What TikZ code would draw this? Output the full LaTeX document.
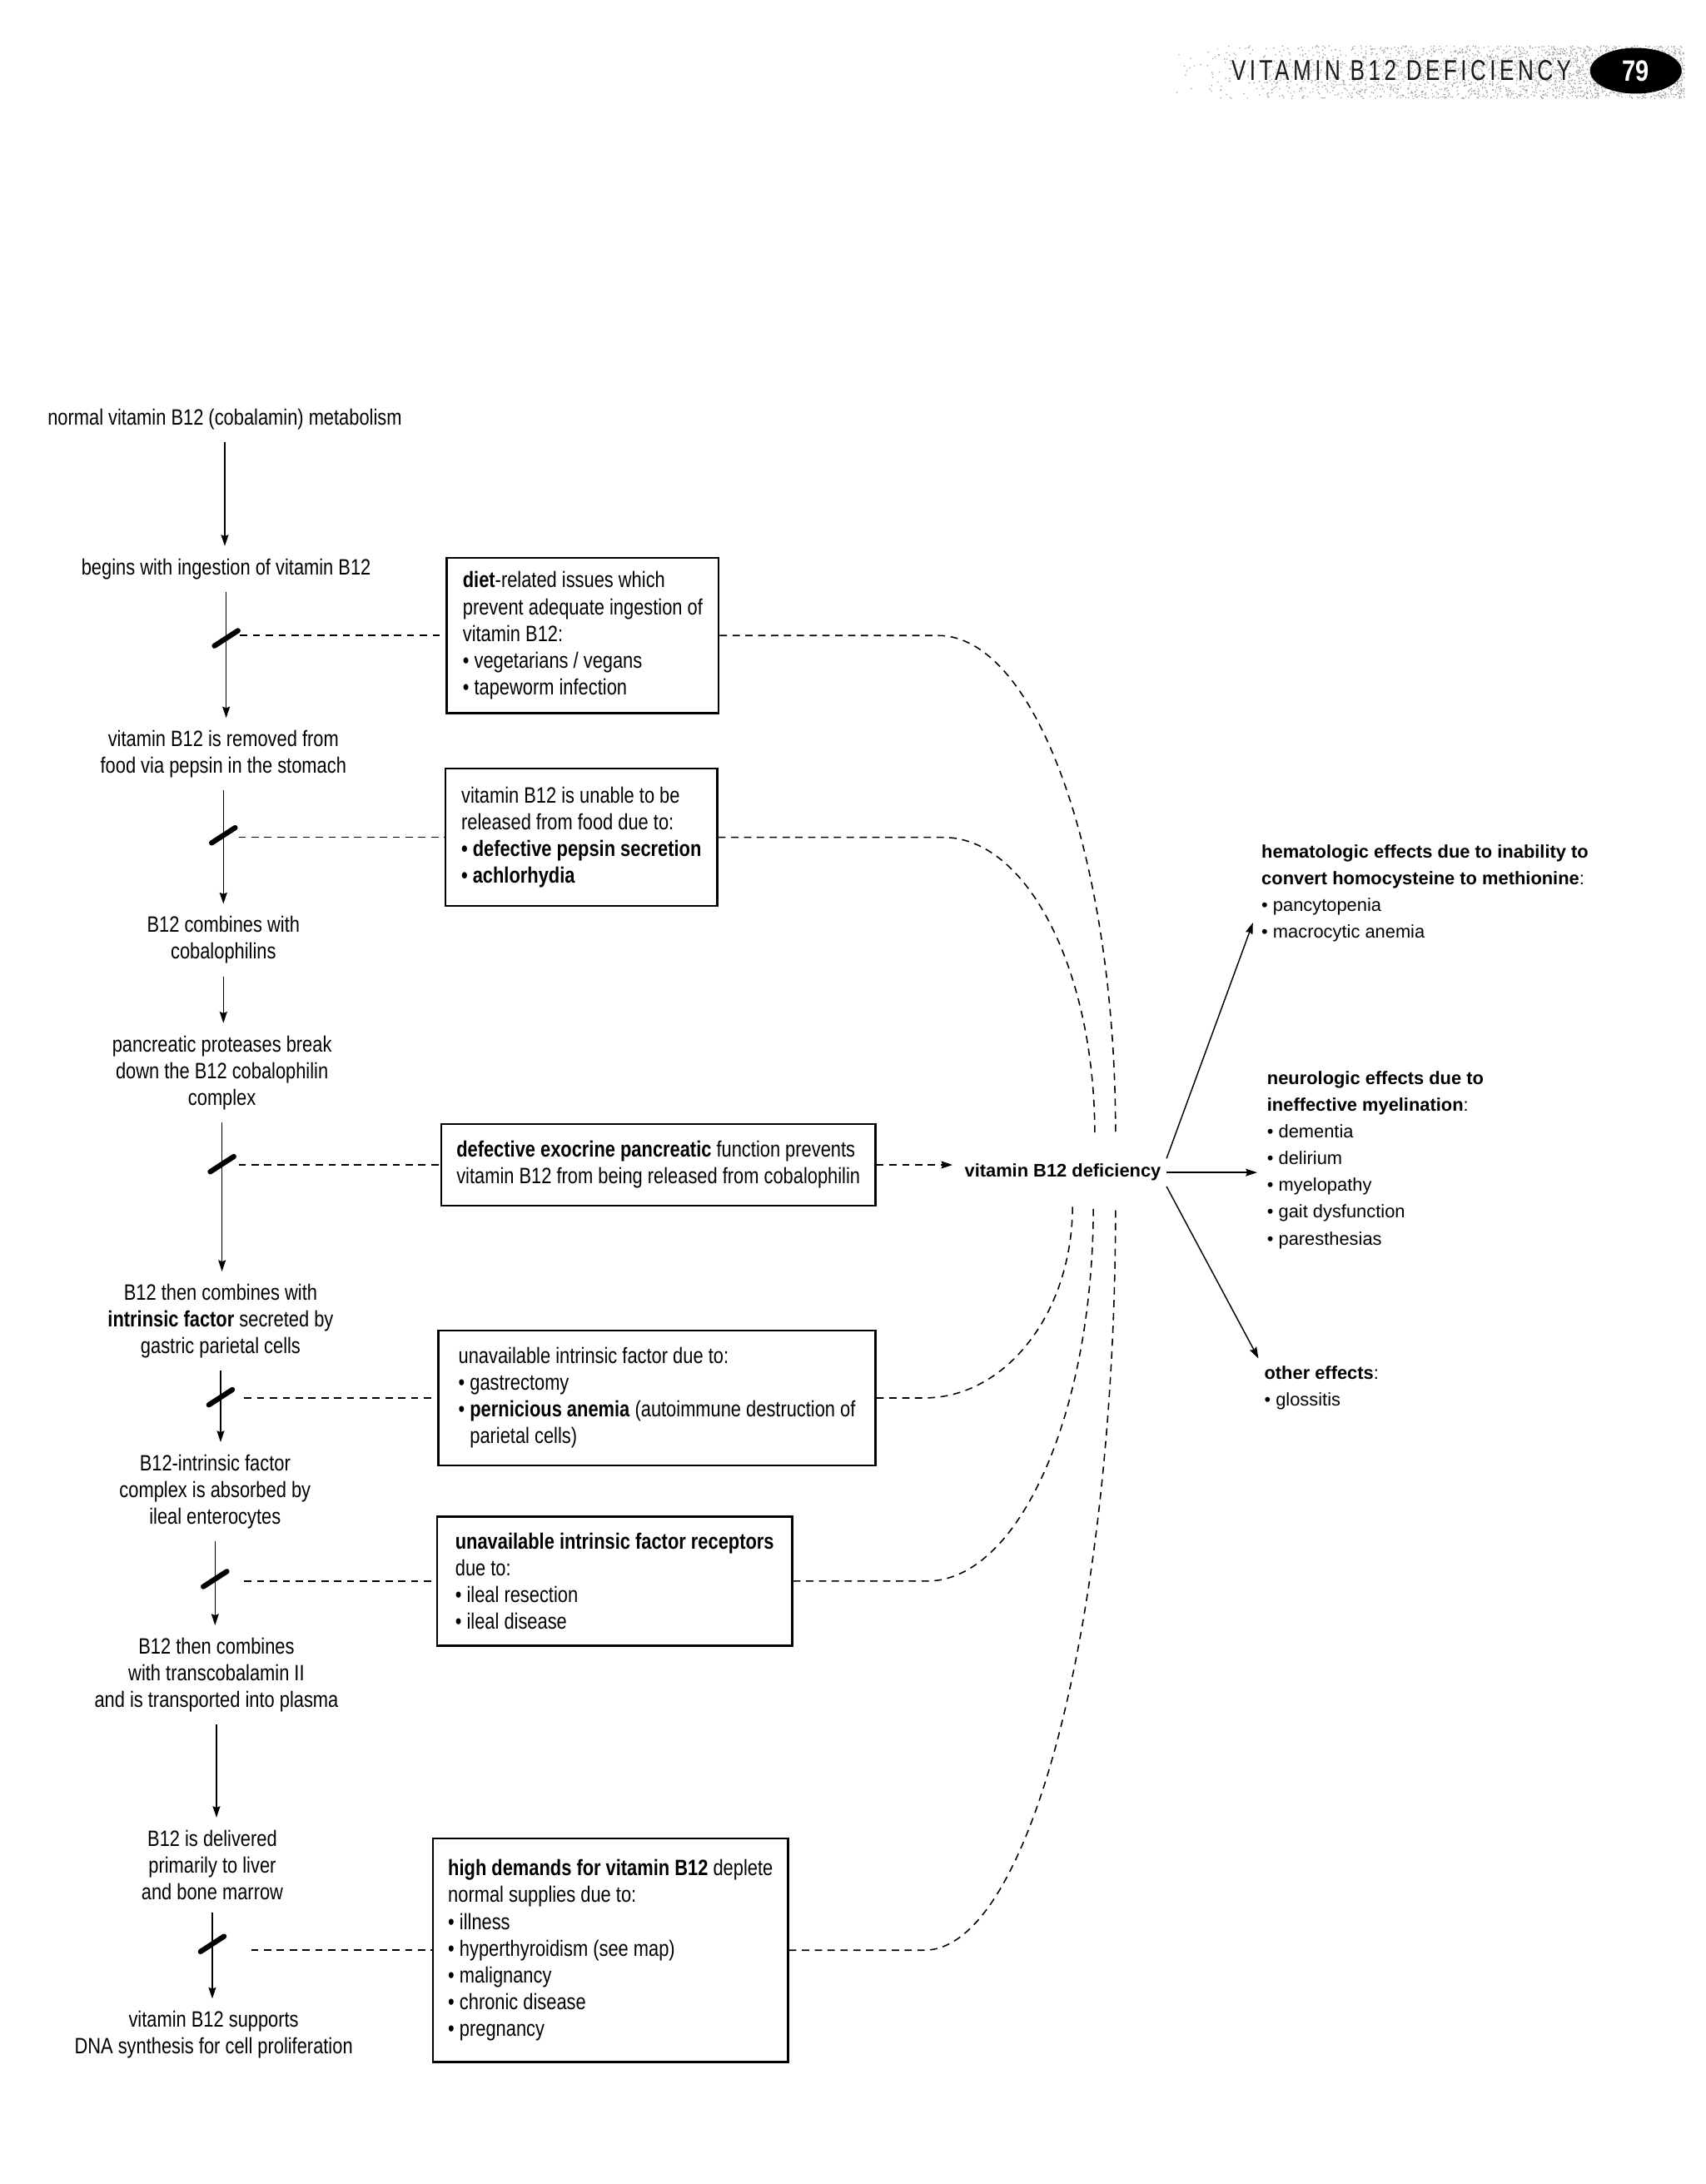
\documentclass[tikz,border=0pt]{standalone}
\usepackage{fontspec}
\setmainfont{Liberation Sans}
\newfontfamily\narrowfont[FakeStretch=0.82]{Liberation Sans}
\newfontfamily\headfont[FakeStretch=0.76,LetterSpace=13]{Liberation Sans}
\usetikzlibrary{arrows.meta,shapes.geometric}
\tikzset{
  stepnode/.style={font=\narrowfont\fontsize{12.8}{15.4}\selectfont, align=center, inner xsep=2pt, inner ysep=7pt},
  causebox/.style={draw, line width=1.1pt, font=\narrowfont\fontsize{12.8}{15.4}\selectfont, align=left, inner sep=0pt},
  effecttext/.style={font=\fontsize{10.5}{15.4}\selectfont, align=left, anchor=west, inner sep=0pt},
  centralnode/.style={font=\bfseries\fontsize{10.5}{12}\selectfont, inner sep=3pt},
  tipstyle/.style={-{Stealth[length=6.5pt,width=4.3pt,inset=0.8pt]}},
  flowarrow/.style={line width=0.7pt, tipstyle},
  blockmark/.style={line width=3pt, line cap=round},
  dashlink/.style={line width=0.75pt, dash pattern=on 4.2pt off 3.2pt},
  speck/.style={fill=black!38},
}
\begin{document}
\begin{tikzpicture}[x=0.8pt,y=-0.8pt]
\useasboundingbox (0,0) rectangle (1229,1574);
\fill[white] (0,0) rectangle (1229,1574);

% ---------- header ----------
\pgfmathsetseed{42}
\foreach \i in {1,...,2600}{
  \pgfmathsetmacro{\px}{842+372*sqrt(rnd)}
  \pgfmathsetmacro{\py}{33+38*rnd}
  \fill[speck] (\px,\py) circle (0.5);
}
\node[font=\headfont\fontsize{16.5}{17}\selectfont, inner sep=0pt, text=black!90] (head) at (1010,51) {VITAMIN B12 DEFICIENCY};
\node[ellipse, fill=black, minimum width=52.8pt, minimum height=26.4pt, inner sep=0pt, text=white, font=\narrowfont\bfseries\fontsize{17}{17}\selectfont] (page) at (1179,51) {79};

% ---------- left column ----------
\node[stepnode] (n1) at (162,302) {normal vitamin B12 (cobalamin) metabolism};
\node[stepnode] (n2) at (163,410) {begins with ingestion of vitamin B12};
\node[stepnode] (n3) at (161,543.5) {vitamin B12 is removed from\\food via pepsin in the stomach};
\node[stepnode] (n4) at (161,677.5) {B12 combines with\\cobalophilins};
\node[stepnode] (n5) at (160,773) {pancreatic proteases break\\down the B12 cobalophilin\\complex};
\node[stepnode] (n6) at (159,952) {B12 then combines with\\\textbf{intrinsic factor} secreted by\\gastric parietal cells};
\node[stepnode] (n7) at (155,1075) {B12-intrinsic factor\\complex is absorbed by\\ileal enterocytes};
\node[stepnode] (n8) at (156,1207) {B12 then combines\\with transcobalamin II\\and is transported into plasma};
\node[stepnode] (n9) at (153,1344) {B12 is delivered\\primarily to liver\\and bone marrow};
\node[stepnode] (n10) at (154,1466.5) {vitamin B12 supports\\DNA synthesis for cell proliferation};

\foreach \a/\b in {n1/n2,n2/n3,n3/n4,n4/n5,n5/n6,n6/n7,n7/n8,n8/n9,n9/n10}{
  \draw[flowarrow] (\a.south) -- (\a.south |- \b.north);
}

% ---------- cause boxes ----------
\node[causebox, minimum width=156.8pt, minimum height=89.6pt] (bA) at (420,458)
 {\textbf{diet}-related issues which\\prevent adequate ingestion of\\vitamin B12:\\•\ vegetarians / vegans\\•\ tapeworm infection};
\node[causebox, minimum width=156.8pt, minimum height=79.2pt] (bB) at (419,603.5)
 {vitamin B12 is unable to be\\released from food due to:\\\textbf{•\ defective pepsin secretion}\\\textbf{•\ achlorhydia}};
\node[causebox, minimum width=250.4pt, minimum height=47.2pt] (bC) at (474.5,839.5)
 {\textbf{defective exocrine pancreatic} function prevents\\vitamin B12 from being released from cobalophilin};
\node[causebox, minimum width=252pt, minimum height=77.6pt] (bD) at (473.5,1007.5)
 {unavailable intrinsic factor due to:\\•\ gastrectomy\\•\ \textbf{pernicious anemia} (autoimmune destruction of\\\phantom{•\ }parietal cells)};
\node[causebox, minimum width=204.8pt, minimum height=74.4pt] (bE) at (443,1139.5)
 {\textbf{unavailable intrinsic factor receptors}\\due to:\\•\ ileal resection\\•\ ileal disease};
\node[causebox, minimum width=204.8pt, minimum height=128.8pt] (bF) at (440,1405.5)
 {\textbf{high demands for vitamin B12} deplete\\normal supplies due to:\\•\ illness\\•\ hyperthyroidism (see map)\\•\ malignancy\\•\ chronic disease\\•\ pregnancy};

% ---------- block marks and dashed links to boxes ----------
\coordinate (sA) at (163,460);
\coordinate (sB) at (161,602);
\coordinate (sC) at (160,839);
\coordinate (sD) at (159,1007);
\coordinate (sE) at (155,1138);
\coordinate (sF) at (153,1401);
\foreach \s in {sA,sB,sC,sD,sE,sF}{
  \draw[blockmark] ([shift={(-8.5,5.5)}]\s) -- ([shift={(8.5,-5.5)}]\s);
}
\coordinate (dA) at (173,458);
\coordinate (dB) at (172,603.5);
\coordinate (dC) at (172,839.5);
\coordinate (dD) at (176,1007.5);
\coordinate (dE) at (176,1139.5);
\coordinate (dF) at (181,1405.5);
\draw[dashlink] (dA) -- (bA.west);
\draw[dashlink] (dB) -- (bB.west);
\draw[dashlink] (dC) -- (bC.west);
\draw[dashlink] (dD) -- (bD.west);
\draw[dashlink] (dE) -- (bE.west);
\draw[dashlink] (dF) -- (bF.west);

% ---------- central node ----------
\node[centralnode] (vit) at (766,845) {vitamin B12 deficiency};

\coordinate (eA) at (804,817);
\coordinate (eB) at (789,817);
\coordinate (eD) at (773,869);
\coordinate (eE) at (788,869);
\coordinate (eF) at (804,869);
\draw[dashlink] (bA.east) -- (676,458) .. controls (747,458) and (804,619) .. (eA);
\draw[dashlink] (bB.east) -- (680,603.5) .. controls (740,603.5) and (789,699) .. (eB);
\draw[dashlink] (bD.east) -- (666,1007.5) .. controls (725,1007.5) and (773,946) .. (eD);
\draw[dashlink] (bE.east) -- (668,1139.5) .. controls (734,1139.5) and (788,1019) .. (eE);
\draw[dashlink] (bF.east) -- (666,1405.5) .. controls (742,1405.5) and (804,1166) .. (eF);
\draw[dashlink, tipstyle, shorten >=3.8pt] (bC.east) -- (bC.east -| vit.west);

% ---------- effects ----------
\node[effecttext] (hem) at (909,644)
 {\textbf{hematologic effects due to inability to}\\\textbf{convert homocysteine to methionine}:\\•\ pancytopenia\\•\ macrocytic anemia};
\node[effecttext] (neu) at (913,836)
 {\textbf{neurologic effects due to}\\\textbf{ineffective myelination}:\\•\ dementia\\•\ delirium\\•\ myelopathy\\•\ gait dysfunction\\•\ paresthesias};
\node[effecttext] (oth) at (911,1000)
 {\textbf{other effects}:\\•\ glossitis};

\coordinate (tH) at (903,665);
\coordinate (tN) at (906,845);
\coordinate (tO) at (907,979);
\draw[flowarrow] (vit.north east) -- (tH);
\draw[flowarrow] (vit.east) -- (tN);
\draw[flowarrow] (vit.south east) -- (tO);
\end{tikzpicture}
\end{document}
